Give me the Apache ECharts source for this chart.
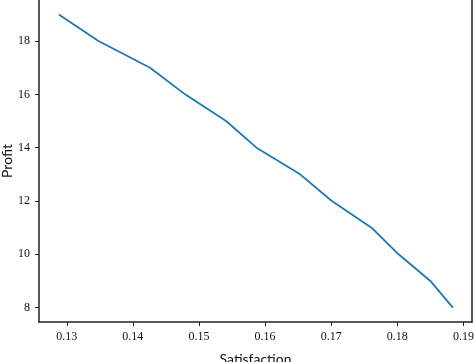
<!DOCTYPE html>
<html><head><meta charset="utf-8">
<script src="https://cdn.jsdelivr.net/npm/echarts@6/dist/echarts.min.js"></script>
<style>html,body{margin:0;padding:0;background:#fff}#c{width:474px;height:362px}</style>
</head><body><div id="c"></div>
<script>
const satisfaction = [0.1288, 0.1348, 0.1426, 0.1479, 0.1541, 0.1587, 0.1653, 0.1701, 0.1761, 0.1802, 0.1850, 0.1884];
const profit = [19, 18, 17, 16, 15, 14, 13, 12, 11, 10, 9, 8];
const xTicks = [0.13, 0.14, 0.15, 0.16, 0.17, 0.18, 0.19];
const yTicks = [8, 10, 12, 14, 16, 18];

const chart = echarts.init(document.getElementById('c'), null, {renderer: 'canvas'});
const axisLine = {show: true, lineStyle: {color: '#222', width: 1.5}};
const tickFont = {fontFamily: 'Liberation Serif', fontSize: 12, color: '#111'};
chart.setOption({
  animation: false,
  grid: {left: 39, right: 2, top: 0, bottom: 40, outerBoundsMode: 'none', containLabel: false},
  xAxis: {
    type: 'value', min: 0.1258, max: 0.1913,
    name: 'Satisfaction', nameLocation: 'middle', nameGap: 30, nameMoveOverlap: false,
    nameTextStyle: {fontFamily: 'Lato', fontSize: 14, color: '#111'},
    axisLine: axisLine,
    axisTick: {show: true, length: 4, lineStyle: {color: '#222', width: 1}, customValues: xTicks},
    axisLabel: Object.assign({margin: 9, customValues: xTicks, formatter: v => v.toFixed(2)}, tickFont),
    splitLine: {show: false}
  },
  yAxis: [{
    type: 'value', min: 7.46, max: 19.54,
    name: 'Profit', nameLocation: 'middle', nameGap: 25, nameRotate: 90, nameMoveOverlap: false,
    nameTextStyle: {fontFamily: 'Lato', fontSize: 14, color: '#111'},
    axisLine: axisLine,
    axisTick: {show: true, length: 4, lineStyle: {color: '#222', width: 1}, customValues: yTicks},
    axisLabel: Object.assign({margin: 9, customValues: yTicks, formatter: v => String(v)}, tickFont),
    splitLine: {show: false}
  }, {
    type: 'value', position: 'right', min: 7.46, max: 19.54,
    axisLine: axisLine, axisTick: {show: false}, axisLabel: {show: false}, splitLine: {show: false}
  }],
  series: [{
    type: 'line',
    data: satisfaction.map((s, i) => [s, profit[i]]),
    showSymbol: false,
    lineStyle: {color: '#1f77b4', width: 1.8},
    itemStyle: {color: '#1f77b4'}
  }]
});
</script></body></html>
